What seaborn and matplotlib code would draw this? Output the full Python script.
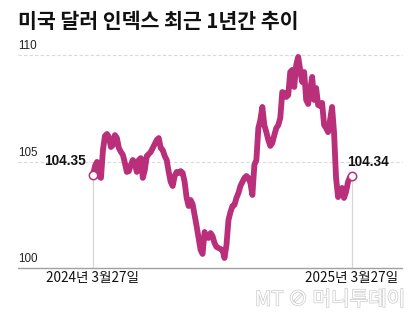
import numpy as np
import pandas as pd
import matplotlib
matplotlib.use("Agg")
import matplotlib.pyplot as plt
import matplotlib.patheffects as pe
import matplotlib.transforms as mtransforms
import seaborn as sns

# ---- data ----
title = "미국 달러 인덱스 최근 1년간 추이"
dxy_values = [
    104.35, 104.79, 104.98, 104.32, 104.23, 105.54, 106.20, 106.29, 106.15, 105.68,
    105.77, 106.24, 106.10, 105.63, 105.45, 105.31, 104.93, 104.51, 104.55, 104.84,
    105.07, 104.93, 104.51, 105.07, 105.16, 104.23, 104.60, 105.26, 105.35, 105.45,
    105.63, 105.82, 106.01, 106.10, 105.63, 105.54, 105.26, 105.07, 104.51, 104.04,
    103.85, 104.32, 104.51, 104.46, 104.55, 104.46, 104.04, 103.29, 102.91, 103.19,
    103.00, 102.49, 101.97, 101.41, 100.85, 100.66, 101.69, 101.46, 101.41, 101.64,
    101.50, 101.17, 100.99, 100.94, 100.89, 100.85, 100.47, 101.08, 102.25, 102.63,
    102.91, 102.96, 103.29, 103.52, 103.85, 104.04, 104.23, 104.32, 104.23, 103.99,
    103.43, 104.84, 105.07, 106.57, 106.95, 107.56, 106.71, 106.38, 106.01, 105.73,
    105.87, 106.24, 106.57, 106.71, 107.04, 108.26, 108.22, 108.03, 108.12, 109.20,
    109.30, 108.50, 109.53, 109.91, 109.30, 108.73, 109.20, 107.89, 107.70, 108.36,
    108.97, 107.89, 108.45, 107.65, 107.61, 107.75, 106.71, 106.57, 106.38, 106.95,
    107.56, 106.34, 104.23, 103.33, 103.66, 103.76, 103.29, 103.57, 104.04, 104.27,
    104.34,
]
start_label = "104.35"
end_label = "104.34"
x_tick_labels = ["2024년 3월27일", "2025년 3월27일"]
y_ticks = [100, 105, 110]

df = pd.DataFrame({"t": np.arange(len(dxy_values)), "value": dxy_values})

# ---- style ----
sns.set_style("white")
plt.rcParams["font.family"] = ["Noto Sans CJK KR", "DejaVu Sans"]

LINE = "#BA2F7A"
W, H = 420, 324
fig = plt.figure(figsize=(W / 100, H / 100), dpi=100)
ax = fig.add_axes([18 / W, 1 - 268 / H, 384 / W, (268 - 55) / H])

n = len(dxy_values)
px_per_unit = (352 - 93) / (n - 1)
ax.set_xlim(-(93 - 18) / px_per_unit, (n - 1) + (402 - 352) / px_per_unit)
ax.set_ylim(y_ticks[0], y_ticks[-1])

# grid lines
for v in y_ticks[1:]:
    ax.axhline(v, color="#d9d9d9", lw=0.8, ls=(0, (3, 2)), zorder=0)
ax.axhline(y_ticks[0], color="#a0a0a0", lw=1.0, zorder=1, clip_on=False)

# vertical guides at endpoints
first, last = df.iloc[0], df.iloc[-1]
ax.vlines([first.t, last.t], y_ticks[0], [first.value, last.value],
          color="#d6d6d6", lw=0.9, zorder=1)

sns.lineplot(data=df, x="t", y="value", ax=ax, color=LINE, lw=4.2,
             solid_joinstyle="round", solid_capstyle="round", zorder=3)
for l in ax.lines:
    l.set_clip_on(False)

ax.plot([first.t, last.t], [first.value, last.value], ls="none", marker="o",
        ms=6, mfc="white", mec=LINE, mew=1.1, zorder=4, clip_on=False)

for s in ax.spines.values():
    s.set_visible(False)
ax.set_xticks([])
ax.set_yticks([])
ax.set_xlabel("")
ax.set_ylabel("")

# y labels
ytr = mtransforms.blended_transform_factory(ax.transAxes, ax.transData)
yoff = mtransforms.ScaledTranslation(0, 3 / 100, fig.dpi_scale_trans)
for v in y_ticks:
    ax.text(0, v, str(v), transform=ytr + yoff, ha="left", va="bottom",
            fontsize=8.4, color="#222222", family=["Liberation Sans", "DejaVu Sans"])

# x labels
xtr = mtransforms.blended_transform_factory(ax.transData, ax.transAxes)
for t, lab in zip([first.t, last.t], x_tick_labels):
    ax.text(t, -0.015, lab, transform=xtr, ha="center", va="top", fontsize=9.8,
            color="#111111")

# value labels
off = mtransforms.ScaledTranslation(0, 14 / 100, fig.dpi_scale_trans)
ax.text(first.t - 3.5, first.value, start_label, transform=ax.transData + off,
        ha="right", va="center", fontsize=9.8, fontweight="bold", color="#111111",
        family=["Liberation Sans", "DejaVu Sans"])
ax.text(last.t - 2.5, last.value, end_label, transform=ax.transData + off,
        ha="left", va="center", fontsize=9.8, fontweight="bold", color="#111111",
        family=["Liberation Sans", "DejaVu Sans"])

# title
fig.text(18 / W, 1 - 22 / H, title, ha="left", va="center", fontsize=14.8,
         fontweight="bold", color="#111111")

# watermark
fig.text(405 / W, 1 - 300 / H, "MT ⊘ 머니투데이", ha="right", va="center",
         fontsize=14.5, color="white",
         path_effects=[pe.withStroke(linewidth=1.1, foreground="#cfcfcf")])

fig.savefig("out.png", dpi=100)
